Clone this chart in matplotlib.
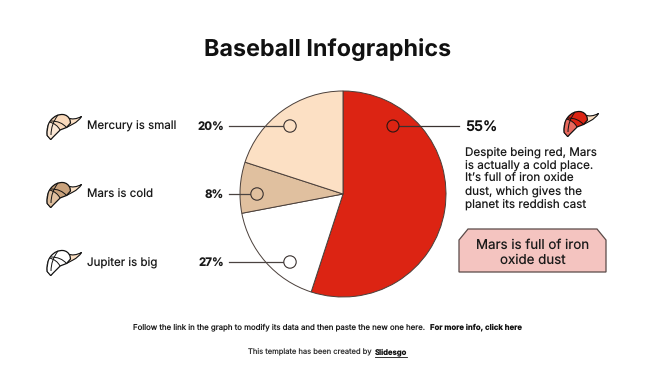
import matplotlib
matplotlib.use("Agg")
import matplotlib.pyplot as plt
from matplotlib.path import Path
from matplotlib.patches import PathPatch, Circle, Polygon

plt.rcParams['font.family'] = 'Inter'
plt.rcParams['text.hinting'] = 'no_hinting'
plt.rcParams['text.hinting_factor'] = 1

# pie wedges, clockwise from 12 o'clock
WEDGES = [55, 17, 8, 20]
WEDGE_COLORS = ['#dc2413', '#ffffff', '#e0c09f', '#fce0c4']

TITLE = "Baseball Infographics"
NAMES = ["Mercury is small", "Mars is cold", "Jupiter is big"]
PERCENTS = ["20%", "8%", "27%"]
BIG_PERCENT = "55%"
BODY = ["Despite being red, Mars", "is actually a cold place.",
        "It\u2019s full of iron oxide", "dust, which gives the",
        "planet its reddish cast"]
BOX_TEXT = ["Mars is full of iron", "oxide dust"]

DARK = '#4a3f3a'
BLACK = '#111111'

fig = plt.figure(figsize=(6.55, 3.68), dpi=100)
ax = fig.add_axes([0, 0, 1, 1])
ax.pie(WEDGES, colors=WEDGE_COLORS, center=(343, 194), radius=103, startangle=-90,
       counterclock=True, frame=True, wedgeprops={'edgecolor': DARK, 'linewidth': 0.7})
# axes are in image pixels, y going down
ax.set_xlim(0, 655)
ax.set_ylim(368, 0)
ax.set_aspect('equal')
ax.axis('off')

M, L, Q = Path.MOVETO, Path.LINETO, Path.CURVE3


def hat_path(x0, y0, pts, codes):
    return Path([(x0 + x, y0 + y) for x, y in pts], codes)


def draw_hat(x0, y0, dome, panel, visor):
    # visor goes under the dome
    vis = [(22, 4), (28, 6.5), (35.5, 2.5), (33, 7), (27, 10), (20.5, 13.5), (21, 8)]
    ax.add_patch(PathPatch(hat_path(x0, y0, vis + [vis[0]], [M, Q, Q, Q, Q, L, L, L]),
                           fc=visor, ec=BLACK, lw=0.8, zorder=4))
    dome_pts = [(4.7, 25.5), (1.2, 21.5), (0.2, 12), (5, 6), (10, 0), (17, 0.5), (22, 1), (24, 6),
                (24.5, 9), (20.5, 13.5), (14, 16), (9, 21), (7, 23), (4.7, 25.5)]
    dome_codes = [M, L, Q, Q, Q, Q, Q, Q, L, L, L, L, L, L]
    ax.add_patch(PathPatch(hat_path(x0, y0, dome_pts, dome_codes), fc=dome, ec=BLACK, lw=0.9, zorder=5))
    # lower left panel
    front = [(4.7, 25.5), (1.2, 21.5), (0.5, 14), (3.5, 8), (11, 10), (14, 16), (9, 21), (7, 23), (4.7, 25.5)]
    ax.add_patch(PathPatch(hat_path(x0, y0, front, [M, L, Q, Q, Q, Q, L, L, L]),
                           fc=panel, ec=BLACK, lw=0.7, zorder=6))
    # seams
    ax.add_patch(PathPatch(hat_path(x0, y0, [(5, 7), (15, 7), (20.5, 13.5)], [M, Q, Q]),
                           fc='none', ec=BLACK, lw=0.7, zorder=7))
    ax.add_patch(PathPatch(hat_path(x0, y0, [(12, 1), (5, 10), (5, 21)], [M, Q, Q]),
                           fc='none', ec=BLACK, lw=0.7, zorder=7))


draw_hat(46, 114, '#f9d9bb', '#fce8d5', '#fce0c4')
draw_hat(46, 182, '#c9a27c', '#e0c09f', '#fce0c4')
draw_hat(46, 250, '#ffffff', '#ffffff', '#fce0c4')
draw_hat(563, 111, '#dc2413', '#e8695e', '#fce0c4')

# left column
for name, pct, y, dot_x, dot_c in zip(NAMES, PERCENTS, [126, 194, 262], [290, 257, 290],
                                      ['#fce0c4', '#e0c09f', '#ffffff']):
    ax.text(87, y + 0.8, name, fontsize=8.3, color='#1a1a1a', va='center', ha='left')
    ax.text(224, y + 0.8, pct, fontsize=8.3, fontweight='bold', color='#1a1a1a', va='center', ha='right')
    ax.plot([229, dot_x], [y, y], color='#4a4340', lw=0.9, zorder=8)
    ax.add_patch(Circle((dot_x, y), 6.2, fc=dot_c, ec='#3a3230', lw=0.8, zorder=9))

# 55% callout
ax.plot([393, 459], [126, 126], color='#3a3230', lw=0.9, zorder=8)
ax.add_patch(Circle((393, 126), 6, fc='#dc2413', ec='#2a1512', lw=0.8, zorder=9))
ax.text(465, 127.5, BIG_PERCENT, fontsize=10.3, fontweight='semibold', color=BLACK, va='center', ha='left')

for line, y in zip(BODY, [152, 165, 178, 191, 204]):
    ax.text(465, y, line, fontsize=8.4, color='#1a1a1a', va='center', ha='left')

# box
box = [(459, 240), (468, 229), (597, 229), (606, 240), (606, 272), (459, 272)]
ax.add_patch(Polygon(box, closed=True, fc='#f4c4c0', ec='#5a4a48', lw=0.9))
for line, y in zip(BOX_TEXT, [245, 260]):
    ax.text(532.5, y, line, fontsize=9.6, color='#1a1a1a', va='center', ha='center')

ax.text(328, 50, TITLE, fontsize=16.8, fontweight='bold', color=BLACK, va='center', ha='center')

# footer
ax.text(133, 327.5, "Follow the link in the graph to modify its data and then paste the new one here.",
        fontsize=5.65, color='#1a1a1a', va='center', ha='left')
ax.text(522, 327.5, "For more info, click here", fontsize=5.6, fontweight='bold', color=BLACK, va='center', ha='right')
ax.text(248, 352.5, "This template has been created by", fontsize=5.45, color='#333333', va='center', ha='left')
ax.text(407, 352.5, "Slidesgo", fontsize=5.5, fontweight='bold', color=BLACK, va='center', ha='right')
ax.plot([375, 407], [356.5, 356.5], color=BLACK, lw=0.6)

fig.savefig("out.png", dpi=100)
